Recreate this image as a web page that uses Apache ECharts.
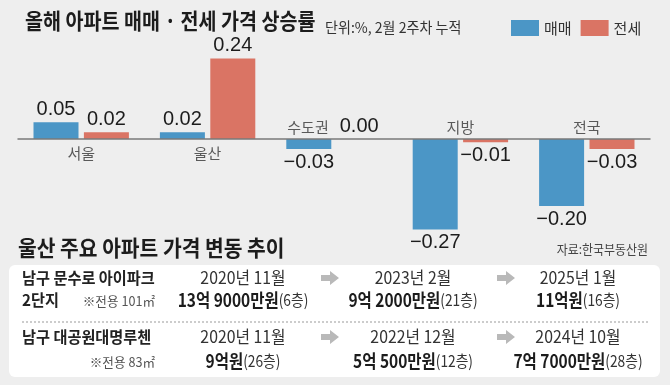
<!DOCTYPE html>
<html><head><meta charset="utf-8">
<script src="https://cdn.jsdelivr.net/npm/echarts@6/dist/echarts.min.js"></script>
<style>html,body{margin:0;padding:0;background:#eeeeee}#c{width:670px;height:385px}</style>
</head><body><div id="c"></div>
<script>
const categories = ['서울', '울산', '수도권', '지방', '전국'];
const saleValues = [0.05, 0.02, -0.03, -0.27, -0.20];
const jeonseValues = [0.02, 0.24, 0.00, -0.01, -0.03];
const seriesNames = ['매매', '전세'];

const aptNames = [['남구 문수로 아이파크', '2단지'], ['남구 대공원대명루첸']];
const aptSizes = ['※전용 101㎡', '※전용 83㎡'];
const aptDates = [['2020년 11월', '2023년 2월', '2025년 1월'], ['2020년 11월', '2022년 12월', '2024년 10월']];
const aptPrices = [['13억 9000만원', '9억 2000만원', '11억원'], ['9억원', '5억 500만원', '7억 7000만원']];
const aptFloors = [['6층', '21층', '16층'], ['26층', '12층', '28층']];

const KR = '"Noto Sans CJK KR", sans-serif';
const NUM = '"Liberation Sans Narrow", "Arial Narrow", "Liberation Sans", sans-serif';
const BLUE = '#4b96c6', RED = '#da7464';

function fmt(v) { return v < 0 ? '\u2212' + Math.abs(v).toFixed(2) : v.toFixed(2); }
function barData(vals) {
  return vals.map(v => ({ value: v, label: { position: v >= 0 ? 'top' : 'bottom' } }));
}

const chart = echarts.init(document.getElementById('c'), null, { renderer: 'canvas' });

const graphic = [];
graphic.push({ type: 'text', x: 25, y: 21, scaleX: 0.89, style: { text: '올해 아파트 매매 · 전세 가격 상승률', font: 'bold 22px ' + KR, fill: '#1c1c1c', textVerticalAlign: 'middle' } });
graphic.push({ type: 'text', x: 325, y: 27, scaleX: 0.97, style: { text: '단위:%, 2월 2주차 누적', font: '14.5px ' + KR, fill: '#333', textVerticalAlign: 'middle' } });
graphic.push({ type: 'text', x: 18, y: 248, scaleX: 0.925, style: { text: '울산 주요 아파트 가격 변동 추이', font: 'bold 22px ' + KR, fill: '#1c1c1c', textVerticalAlign: 'middle' } });
graphic.push({ type: 'text', x: 648, y: 249, scaleX: 0.92, style: { text: '자료:한국부동산원', font: '13px ' + KR, fill: '#444', textAlign: 'right', textVerticalAlign: 'middle' } });
graphic.push({ type: 'rect', shape: { x: 9, y: 265, width: 651, height: 112, r: 6 }, style: { fill: '#ffffff' } });
graphic.push({ type: 'line', shape: { x1: 22, y1: 322, x2: 648, y2: 322 }, style: { stroke: '#9a9a9a', lineWidth: 1, lineDash: [2, 2] } });

const rowY = [[278, 300], [337, 361]];
const colX = [243, 413, 578];
const arrowX = [321, 497];
for (let r = 0; r < 2; r++) {
  const y1 = rowY[r][0], y2 = rowY[r][1];
  graphic.push({ type: 'text', x: 22, y: y1, scaleX: 0.95, style: { text: aptNames[r][0], font: 'bold 16px ' + KR, fill: '#222', textVerticalAlign: 'middle' } });
  if (aptNames[r][1]) {
    graphic.push({ type: 'text', x: 22, y: y2, scaleX: 0.95, style: { text: aptNames[r][1], font: 'bold 16px ' + KR, fill: '#222', textVerticalAlign: 'middle' } });
  }
  graphic.push({ type: 'text', x: 155, y: y2 + 1, scaleX: 0.97, style: { text: aptSizes[r], font: '13px ' + KR, fill: '#555', textAlign: 'right', textVerticalAlign: 'middle' } });
  for (let c = 0; c < 3; c++) {
    graphic.push({ type: 'text', x: colX[c], y: y1, scaleX: 0.93, style: { text: aptDates[r][c], font: '17px ' + KR, fill: '#333', textAlign: 'center', textVerticalAlign: 'middle' } });
    graphic.push({ type: 'text', x: colX[c], y: y2, scaleX: 0.86, style: {
      text: '{b|' + aptPrices[r][c] + '}{n|(' + aptFloors[r][c] + ')}',
      textAlign: 'center', textVerticalAlign: 'middle',
      rich: { b: { font: 'bold 18px ' + KR, fill: '#1c1c1c' }, n: { font: '16px ' + KR, fill: '#333' } }
    } });
  }
  for (const ax of arrowX) {
    graphic.push({ type: 'polygon', shape: { points: [[ax, y1 - 3], [ax + 9, y1 - 3], [ax + 9, y1 - 7], [ax + 18, y1], [ax + 9, y1 + 7], [ax + 9, y1 + 3], [ax, y1 + 3]] }, style: { fill: '#b9b9b9' } });
  }
}

const option = {
  backgroundColor: '#eeeeee',
  animation: false,
  grid: { left: 18, right: 20, top: 38.5, height: 201 },
  legend: {
    data: seriesNames, left: 511, top: 20, padding: 0, itemWidth: 28, itemHeight: 16, itemGap: 9, icon: 'rect',
    textStyle: { fontFamily: KR, fontSize: 15, color: '#333' }
  },
  xAxis: {
    type: 'category', data: categories,
    axisLine: { onZero: true, lineStyle: { color: '#7a7a7a', width: 1.5 } },
    axisTick: { show: false }, axisLabel: { show: false }, splitLine: { show: false }, z: 5
  },
  yAxis: { type: 'value', min: -0.3, max: 0.3, show: false },
  series: [
    { name: seriesNames[0], type: 'bar', barWidth: 45, barGap: '12%', itemStyle: { color: BLUE }, data: barData(saleValues),
      label: { show: true, distance: 3, formatter: p => fmt(p.value), fontFamily: NUM, fontSize: 20, color: '#1c1c1c' } },
    { name: seriesNames[1], type: 'bar', barWidth: 45, barGap: '12%', itemStyle: { color: RED }, data: barData(jeonseValues),
      label: { show: true, distance: 3, formatter: p => fmt(p.value), fontFamily: NUM, fontSize: 20, color: '#1c1c1c' } },
    { name: 'cat', type: 'scatter', symbolSize: 0, silent: true,
      data: categories.map((c, i) => ({ value: 0, label: {
        position: saleValues[i] < 0 ? 'top' : 'bottom',
        distance: saleValues[i] < 0 ? 4 : 7,
        offset: jeonseValues[i] === 0 ? [-26, 0] : [0, 0]
      } })),
      label: { show: true, formatter: p => categories[p.dataIndex], fontFamily: KR, fontSize: 15, color: '#333' } }
  ],
  graphic: graphic
};
chart.setOption(option);
</script></body></html>
